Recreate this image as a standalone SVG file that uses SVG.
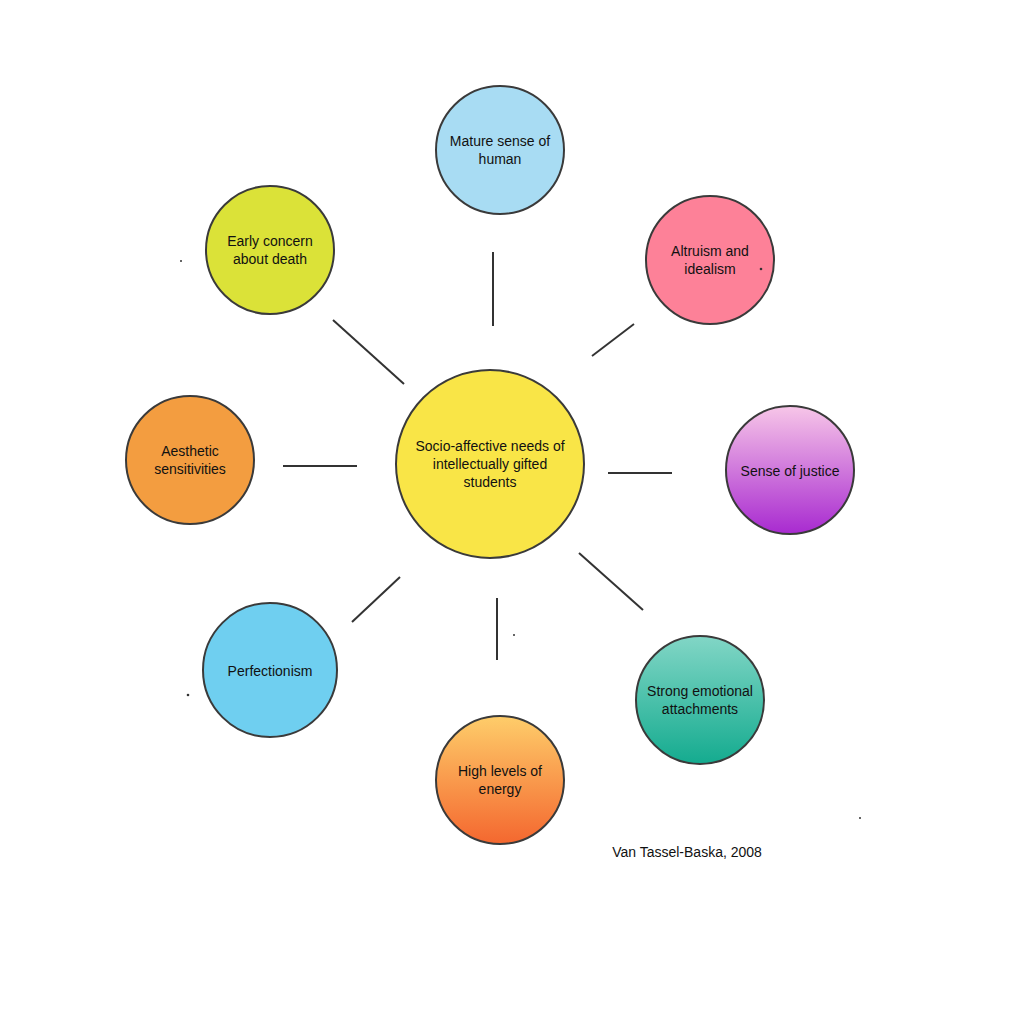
<svg xmlns="http://www.w3.org/2000/svg" width="1024" height="1024" viewBox="0 0 1024 1024">
<style>
.n{stroke:#3a3a3a;stroke-width:2}
.t{font-family:"Liberation Sans",Arial,sans-serif;font-size:14px;fill:#111;text-anchor:middle}
.c line{stroke:#333;stroke-width:2}
.d{fill:#333}
</style>
<defs>
<linearGradient id="gj" x1="0" y1="0" x2="0" y2="1"><stop offset="0" stop-color="#f7c6e8"/><stop offset="1" stop-color="#a82ad0"/></linearGradient>
<linearGradient id="gs" x1="0" y1="0" x2="0" y2="1"><stop offset="0" stop-color="#82d6c6"/><stop offset="1" stop-color="#14ab8f"/></linearGradient>
<linearGradient id="ge" x1="0" y1="0" x2="0" y2="1"><stop offset="0" stop-color="#fecd6a"/><stop offset="1" stop-color="#f4672f"/></linearGradient>
</defs>
<rect width="1024" height="1024" fill="#fff"/>
<g class="c">
<line x1="493" y1="252" x2="493" y2="326"/>
<line x1="592" y1="356" x2="634" y2="324"/>
<line x1="608" y1="473" x2="672" y2="473"/>
<line x1="579" y1="553" x2="643" y2="610"/>
<line x1="497" y1="598" x2="497" y2="660"/>
<line x1="400" y1="577" x2="352" y2="622"/>
<line x1="283" y1="466" x2="357" y2="466"/>
<line x1="333" y1="320" x2="404" y2="384"/>
</g>
<g id="center"><circle class="n" cx="490" cy="464" r="94" fill="#f9e547"/><text class="t" x="490" y="451">Socio-affective needs of</text><text class="t" x="490" y="469">intellectually gifted</text><text class="t" x="490" y="487">students</text></g>
<g id="mature"><circle class="n" cx="500" cy="150" r="64" fill="#a8dcf3"/><text class="t" x="500" y="146">Mature sense of</text><text class="t" x="500" y="164">human</text></g>
<g id="altruism"><circle class="n" cx="710" cy="260" r="64" fill="#fd8198"/><text class="t" x="710" y="256">Altruism and</text><text class="t" x="710" y="274">idealism</text></g>
<g id="justice"><circle class="n" cx="790" cy="470" r="64" fill="url(#gj)"/><text class="t" x="790" y="476">Sense of justice</text></g>
<g id="emotional"><circle class="n" cx="700" cy="700" r="64" fill="url(#gs)"/><text class="t" x="700" y="696">Strong emotional</text><text class="t" x="700" y="714">attachments</text></g>
<g id="energy"><circle class="n" cx="500" cy="780" r="64" fill="url(#ge)"/><text class="t" x="500" y="776">High levels of</text><text class="t" x="500" y="794">energy</text></g>
<g id="perfectionism"><circle class="n" cx="270" cy="670" r="67" fill="#6fcff0"/><text class="t" x="270" y="676">Perfectionism</text></g>
<g id="aesthetic"><circle class="n" cx="190" cy="460" r="64" fill="#f39d40"/><text class="t" x="190" y="456">Aesthetic</text><text class="t" x="190" y="474">sensitivities</text></g>
<g id="death"><circle class="n" cx="270" cy="250" r="64" fill="#dbe238"/><text class="t" x="270" y="246">Early concern</text><text class="t" x="270" y="264">about death</text></g>
<text class="t" x="687" y="857">Van Tassel-Baska, 2008</text>
<circle class="d" cx="181" cy="261" r="1"/><circle class="d" cx="761" cy="269" r="1.3"/><circle class="d" cx="514" cy="635" r="1"/><circle class="d" cx="188" cy="695" r="1.3"/><circle class="d" cx="860" cy="818" r="1"/>
</svg>
